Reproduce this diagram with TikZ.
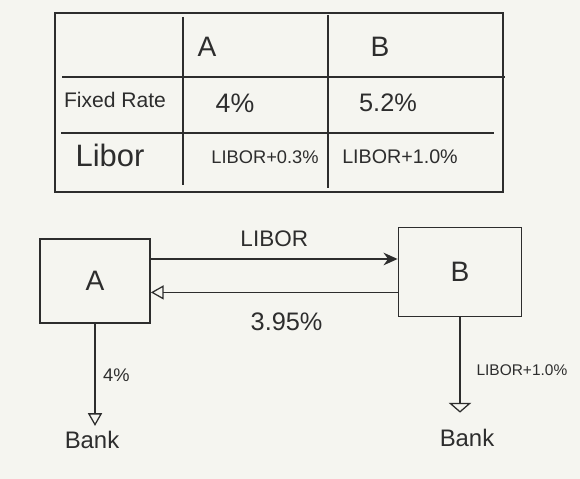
\documentclass[tikz,border=0pt]{standalone}
\usepackage{fontspec}
\setmainfont{Liberation Sans}
\usepackage{xcolor}
\definecolor{inkgray}{RGB}{45,45,45}
\definecolor{paper}{RGB}{245,245,240}
\usetikzlibrary{arrows.meta,positioning,calc}

\begin{document}
\begin{tikzpicture}[x=0.025cm,y=-0.025cm,inkgray,line width=0.9pt,
  party/.style={draw,line width=1.3pt,inner sep=0pt},
  lbl/.style={font=\fontsize{#1}{#1}\selectfont},
  tip/.style={-{Triangle[open,length=9pt,width=10pt]}}]
  \fill[paper] (0,0) rectangle (580,479);
  \useasboundingbox (0,0) rectangle (580,479);
  % table of quotes
  \draw[line width=1.3pt] (55,13) rectangle (503,192);
  \draw (183,17) -- (183,185) (328,15) -- (328,188);
  \draw (62,77) -- (505,77) (61,133) -- (494,133);
  \foreach \x/\y/\s/\nm/\txt in {
    207/47/20/hA/A, 380/47/20/hB/B,
    115/100/15/rFix/Fixed Rate, 235/103/19/fA/4\%, 388/103/18/fB/5.2\%,
    110/155/22/rLib/Libor, 265/157/13/lA/LIBOR+0.3\%, 400/157/14/lB/LIBOR+1.0\%}{
    \node[lbl=\s] (\nm) at (\x,\y) {\txt};
  }
  % swap
  \node[party,minimum width=2.75cm,minimum height=2.1cm,lbl=20] (A) at (95,281) {A};
  \node[party,minimum width=3.075cm,minimum height=2.225cm,lbl=20] (B) at (460,272) {B};
  \node[lbl=17] (bankA) at (92,440) {Bank};
  \node[lbl=17] (bankB) at (467,438) {Bank};
  \draw[-{Stealth[length=10pt,width=9pt]}] ([yshift=0.55cm]A.east) -- ([yshift=0.55cm]A.east -| B.west)
    node[midway,above=5pt,lbl=16] (libor) {LIBOR};
  \draw[tip] ([yshift=-0.51cm]B.west) -- ([yshift=-0.51cm]B.west -| A.east)
    node[pos=0.45,below=11pt,lbl=18] (fix) {3.95\%};
  \draw[tip] (A.south) -- (A.south |- bankA.north)
    node[midway,right=2pt,lbl=13] (payA) {4\%};
  \draw[-{Triangle[open,length=7pt,width=16pt]},shorten >=8pt] (B.south) -- (B.south |- bankB.north)
    node[midway,right=8pt,lbl=11] (payB) {LIBOR+1.0\%};
\end{tikzpicture}
\end{document}
